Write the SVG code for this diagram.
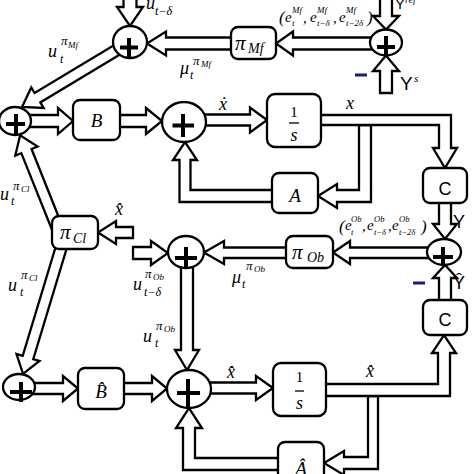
<svg xmlns="http://www.w3.org/2000/svg" width="474" height="474" viewBox="0 0 474 474">
<style>
.a{fill:#fff;stroke:#000;stroke-width:2.3;stroke-linejoin:miter}
.box{fill:#fff;stroke:#000;stroke-width:2.3}
.sum{fill:#fff;stroke:#000;stroke-width:2.3}
.plus{stroke:#000;stroke-width:4;fill:none}
.m{font-family:"Liberation Serif","DejaVu Serif",serif;font-style:italic;fill:#000}
.r{font-family:"Liberation Serif","DejaVu Serif",serif;fill:#000}
.s{font-family:"Liberation Sans","DejaVu Sans",sans-serif;fill:#000}
.neg{stroke:#1a1a80;stroke-width:3}
</style>
<rect width="474" height="474" fill="#fff"/>
<g id="connectors">
<polygon class="a" points="123.5,-5 123.5,7 117,7 130,26 143,7 136.5,7 136.5,-5"/>
<polygon class="a" points="380,-5 380,16 373,16 386,29.5 399,16 392,16 392,-5"/>
<polygon class="a" points="380,93 380,71 373,71 386,55.5 399,71 392,71 392,93"/>
<polygon class="a" points="386,37.5 293,37.5 293,31.5 276,43.5 293,55.5 293,49.5 386,49.5"/>
<polygon class="a" points="240,37.5 166,37.5 166,31.5 147,43.5 166,55.5 166,49.5 240,49.5"/>
<polygon class="a" transform="translate(130,42) rotate(148.96)" points="0,-5.5 108,-5.5 108,-12 126,0 108,12 108,5.5 0,5.5"/>
<polygon class="a" transform="translate(58,230) rotate(-111.8)" points="0,-5.5 85,-5.5 85,-12 102,0 85,12 85,5.5 0,5.5"/>
<polygon class="a" transform="translate(65,235) rotate(106.81)" points="0,-5.5 128,-5.5 128,-12 145,0 128,12 128,5.5 0,5.5"/>
<polygon class="a" points="15,115 58,115 58,108 73,121 58,134 58,127 15,127"/>
<polygon class="a" points="110,115 146,115 146,108 162,121 146,134 146,127 110,127"/>
<polygon class="a" points="184,114.5 250,114.5 250,107.5 267,120 250,132.5 250,125.5 184,125.5"/>
<polygon class="a" points="290,190 190.5,190 190.5,160 197,160 185,142 173,160 179.5,160 179.5,202 290,202"/>
<polygon class="a" points="359,125 359,190 337,190 337,184 318,196 337,208 337,202 371,202 371,125"/>
<polygon class="a" points="300,115 451,115 451,148 457,148 445,168 433,148 439,148 439,125 300,125"/>
<polygon class="a" points="439,185 439,224 433,224 445,239 457,224 451,224 451,185"/>
<polygon class="a" points="439,315 439,278 433,278 445,265 457,278 451,278 451,315"/>
<polygon class="a" points="444,247.5 350,247.5 350,241 333,252.5 350,264 350,258 444,258"/>
<polygon class="a" points="300,247.5 224,247.5 224,241 204,252.5 224,264 224,258 300,258"/>
<polygon class="a" points="133,247 151,247 151,241 168,253 151,265 151,259 133,259"/>
<polygon class="a" points="133,227 116,227 116,221 98,232.5 116,244 116,238 133,238"/>
<polygon class="a" points="181,252 181,350 175,350 187,370 199,350 193,350 193,252"/>
<polygon class="a" points="19,383 63,383 63,376 78,388.5 63,401 63,394 19,394"/>
<polygon class="a" points="110,383 152,383 152,376 167,388.5 152,401 152,394 110,394"/>
<polygon class="a" points="189,382.5 256,382.5 256,376 273,388 256,400 256,393.5 189,393.5"/>
<polygon class="a" points="368,396 368,457 344,457 344,451 324,463 344,475 344,469 378,469 378,396"/>
<polygon class="a" points="300,384 438,384 438,353 432,353 444,335 456,353 450,353 450,396 300,396"/>
<polygon class="a" points="290,458 195,458 195,428 202,428 189,408 176,428 183,428 183,470 290,470"/>
</g>
<g id="sum1"><ellipse class="sum" cx="130" cy="42" rx="17" ry="16"/><path class="plus" d="M120 47.5H138M129 38V57"/></g>
<g id="sum2"><ellipse class="sum" cx="386" cy="42.5" rx="16" ry="13"/><path class="plus" d="M377 47H395M386 36V56"/></g>
<g id="sum3"><ellipse class="sum" cx="15" cy="121" rx="16" ry="14"/><path class="plus" d="M6 124H25M16 114V136"/></g>
<g id="sum4"><ellipse class="sum" cx="184" cy="122" rx="22" ry="20"/><path class="plus" d="M172.5 125.5H194M183 114V137"/></g>
<g id="sum5"><ellipse class="sum" cx="444" cy="252" rx="17" ry="13"/><path class="plus" d="M433 257H453M443 247V265"/></g>
<g id="sum6"><ellipse class="sum" cx="186" cy="252" rx="18" ry="16"/><path class="plus" d="M175 258H197M186 247V269"/></g>
<g id="sum7"><ellipse class="sum" cx="19" cy="387" rx="16" ry="13"/><path class="plus" d="M10 392H32M21 382V402"/></g>
<g id="sum8"><ellipse class="sum" cx="189" cy="389" rx="22" ry="19"/><path class="plus" d="M177 393H200M188 379V407"/></g>
<g id="B"><rect class="box" x="73" y="100" width="47" height="40" rx="7"/><text class="m" x="96.5" y="127" font-size="19" text-anchor="middle">B</text></g>
<g id="integrator"><rect class="box" x="267" y="94" width="54" height="53" rx="8"/><text class="r" x="294" y="117" font-size="15" text-anchor="middle">1</text><line x1="289" y1="123" x2="299" y2="123" stroke="#000" stroke-width="1.3"/><text class="m" x="294" y="141" font-size="18" text-anchor="middle">s</text></g>
<g id="piMf"><rect class="box" x="231" y="27" width="45" height="32" rx="7"/><text class="m" x="235" y="50" font-size="21">π<tspan x="248" y="53" font-size="14">Mf</tspan></text></g>
<g id="A"><rect class="box" x="272" y="173" width="46" height="40" rx="7"/><text class="m" x="295" y="202" font-size="19" text-anchor="middle">A</text></g>
<g id="C1"><rect class="box" x="423" y="168" width="44" height="35" rx="7"/><text class="s" x="445" y="195" font-size="18" text-anchor="middle">C</text></g>
<g id="piOb"><rect class="box" x="286" y="236" width="47" height="32" rx="7"/><text class="m" x="292" y="259" font-size="21">π<tspan x="307" y="262" font-size="14">Ob</tspan></text></g>
<g id="C2"><rect class="box" x="423" y="300" width="44" height="35" rx="7"/><text class="s" x="445" y="326" font-size="18" text-anchor="middle">C</text></g>
<g id="piCl"><rect class="box" x="52" y="216" width="46" height="33" rx="7"/><text class="m" x="60" y="239" font-size="21">π<tspan x="73" y="243" font-size="14">Cl</tspan></text></g>
<g id="Bhat"><rect class="box" x="78" y="368" width="46" height="41" rx="7"/><text class="m" x="101" y="398" font-size="19" text-anchor="middle">B&#x302;</text></g>
<g id="integrator2"><rect class="box" x="273" y="363" width="53" height="53" rx="8"/><text class="r" x="299.5" y="382" font-size="15" text-anchor="middle">1</text><line x1="295" y1="391" x2="304" y2="391" stroke="#000" stroke-width="1.3"/><text class="m" x="299.5" y="409" font-size="18" text-anchor="middle">s</text></g>
<g id="Ahat"><rect class="box" x="278" y="442" width="46" height="45" rx="7"/><text class="m" x="301" y="475" font-size="19" text-anchor="middle">Â</text></g>
<g id="labels">
<text class="m" x="146" y="9" font-size="18">u<tspan x="155" y="15" font-size="12">t−δ</tspan></text>
<text class="m" x="48" y="57" font-size="18">u<tspan x="60" y="63" font-size="12">t</tspan><tspan x="61" y="45" font-size="13">π</tspan><tspan x="68" y="48" font-size="9">Mf</tspan></text>
<text class="m" x="180" y="74" font-size="18">μ<tspan x="190" y="79" font-size="12">t</tspan><tspan x="193" y="65" font-size="13">π</tspan><tspan x="201" y="67" font-size="9">Mf</tspan></text>
<text class="m" font-size="15"><tspan class="r" x="279" y="23" font-size="17">(</tspan><tspan x="285" y="22">e</tspan><tspan x="292" y="13" font-size="9">Mf</tspan><tspan x="292" y="26" font-size="9">t</tspan><tspan x="303" y="23">,</tspan><tspan x="310" y="22">e</tspan><tspan x="317" y="13" font-size="9">Mf</tspan><tspan x="317" y="26" font-size="9">t−δ</tspan><tspan x="333" y="23">,</tspan><tspan x="339" y="22">e</tspan><tspan x="346" y="13" font-size="9">Mf</tspan><tspan x="346" y="26" font-size="9">t−2δ</tspan><tspan class="r" x="367" y="23" font-size="17">)</tspan></text>
<text class="s" x="395" y="9" font-size="15">Y<tspan class="m" x="405" y="3" font-size="10">ref</tspan></text>
<text class="s" x="400" y="90" font-size="19">Y<tspan class="m" x="414" y="82" font-size="11">s</tspan></text>
<line class="neg" x1="355" y1="75" x2="367" y2="75"/>
<text class="m" x="0" y="200" font-size="18">u<tspan x="11" y="205" font-size="12">t</tspan><tspan x="13" y="190" font-size="13">π</tspan><tspan x="21" y="192" font-size="9">Cl</tspan></text>
<text class="m" x="8" y="291" font-size="18">u<tspan x="20" y="296" font-size="12">t</tspan><tspan x="21" y="279" font-size="13">π</tspan><tspan x="29" y="281" font-size="9">Cl</tspan></text>
<text class="m" x="115" y="215" font-size="18">x&#x302;</text>
<text class="m" x="133" y="290" font-size="18">u<tspan x="144" y="296" font-size="12">t−δ</tspan><tspan x="145" y="278" font-size="13">π</tspan><tspan x="153" y="280" font-size="9">Ob</tspan></text>
<text class="m" x="143" y="342" font-size="18">u<tspan x="155" y="347" font-size="12">t</tspan><tspan x="156" y="330" font-size="13">π</tspan><tspan x="164" y="332" font-size="9">Ob</tspan></text>
<text class="m" x="232" y="283" font-size="18">μ<tspan x="242" y="288" font-size="12">t</tspan><tspan x="246" y="270" font-size="13">π</tspan><tspan x="254" y="272" font-size="9">Ob</tspan></text>
<text class="m" font-size="15"><tspan class="r" x="339" y="232" font-size="17">(</tspan><tspan x="345" y="230">e</tspan><tspan x="351" y="222" font-size="8.5">Ob</tspan><tspan x="351" y="235" font-size="8.5">t</tspan><tspan x="362" y="231">,</tspan><tspan x="367" y="230">e</tspan><tspan x="374" y="222" font-size="8.5">Ob</tspan><tspan x="374" y="235" font-size="8.5">t−δ</tspan><tspan x="388" y="231">,</tspan><tspan x="392" y="230">e</tspan><tspan x="399" y="222" font-size="8.5">Ob</tspan><tspan x="399" y="235" font-size="8.5">t−2δ</tspan><tspan class="r" x="421" y="232" font-size="17">)</tspan></text>
<text class="s" x="453" y="228" font-size="18">Y</text>
<text class="s" x="453" y="289" font-size="18">Ŷ</text>
<line class="neg" x1="413" y1="283" x2="425" y2="283"/>
<text class="m" x="219" y="110" font-size="18">x&#x307;</text>
<text class="m" x="346" y="109" font-size="18">x</text>
<text class="m" x="227" y="378" font-size="18">x&#x302;&#x307;</text>
<text class="m" x="366" y="377" font-size="18">x&#x302;</text>
</g>
</svg>
